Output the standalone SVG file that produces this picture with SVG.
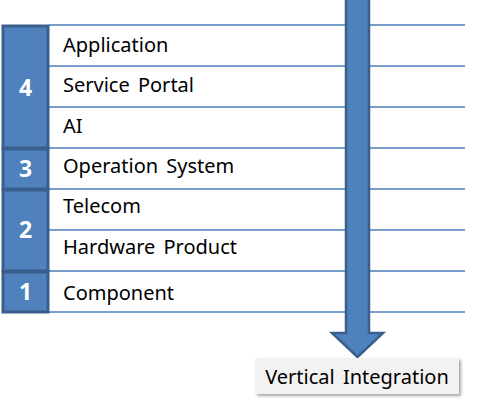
<svg xmlns="http://www.w3.org/2000/svg" width="488" height="420" viewBox="0 0 488 420">
<defs>
<style>
.row{stroke:#4a7ebb;stroke-width:1.5;fill:none}
.box{fill:#4f81bd;stroke:#3a5f8c;stroke-width:3}
.num{font-family:"Noto Sans","DejaVu Sans",sans-serif;font-size:23px;font-weight:bold;fill:#ffffff;text-anchor:middle}
.lbl{font-family:"Noto Sans","DejaVu Sans",sans-serif;font-size:20px;fill:#000000;word-spacing:3px}
</style>
<filter id="sh" x="-10%" y="-20%" width="130%" height="160%">
<feDropShadow dx="2" dy="2" stdDeviation="1.5" flood-color="#000" flood-opacity="0.35"/>
</filter>
</defs>
<g id="connectors">
<line class="row" x1="49" y1="25" x2="465" y2="25"/>
<line class="row" x1="49" y1="66" x2="465" y2="66"/>
<line class="row" x1="49" y1="107" x2="465" y2="107"/>
<line class="row" x1="49" y1="148" x2="465" y2="148"/>
<line class="row" x1="49" y1="189" x2="465" y2="189"/>
<line class="row" x1="49" y1="230" x2="465" y2="230"/>
<line class="row" x1="49" y1="271" x2="465" y2="271"/>
<line class="row" x1="49" y1="312" x2="465" y2="312"/>
</g>
<g id="layer4"><rect class="box" x="3" y="26" width="45" height="122"/><text class="num" x="25.5" y="96">4</text></g>
<g id="layer3"><rect class="box" x="3" y="149" width="45" height="40"/><text class="num" x="25.5" y="177">3</text></g>
<g id="layer2"><rect class="box" x="3" y="190" width="45" height="81"/><text class="num" x="25.5" y="238">2</text></g>
<g id="layer1"><rect class="box" x="3" y="272" width="45" height="40"/><text class="num" x="25.5" y="300">1</text></g>
<g id="labels">
<text class="lbl" x="63" y="52">Application</text>
<text class="lbl" x="63" y="92">Service Portal</text>
<text class="lbl" x="63" y="133">AI</text>
<text class="lbl" x="63" y="173">Operation System</text>
<text class="lbl" x="63" y="213">Telecom</text>
<text class="lbl" x="63" y="254">Hardware Product</text>
<text class="lbl" x="63" y="300">Component</text>
</g>
<g id="arrow">
<path d="M346,-3 L369,-3 L369,333 L383,333 L357.5,357 L332,333 L346,333 Z" fill="#4f81bd" stroke="#3a5f8c" stroke-width="2.5" stroke-linejoin="miter"/>
</g>
<g id="vertical-integration">
<rect x="255" y="358" width="204" height="36" fill="#f2f2f2" filter="url(#sh)"/>
<text class="lbl" x="357" y="384" text-anchor="middle">Vertical Integration</text>
</g>
</svg>
